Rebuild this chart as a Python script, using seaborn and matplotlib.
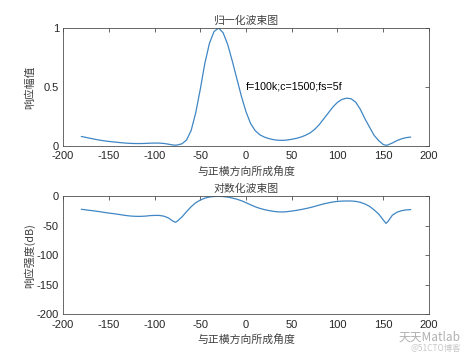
import numpy as np
import pandas as pd
import matplotlib
matplotlib.use("Agg")
import matplotlib.pyplot as plt
import matplotlib.ticker as mticker
import seaborn as sns

# 角度 (deg)
angles = [-180, -175, -170, -165, -160, -155, -150, -145, -140, -135, -130, -125,
          -120, -115, -110, -105, -100, -95, -90, -85, -80, -77, -75, -70, -65,
          -60, -55, -50, -45, -40, -35, -30, -25, -20, -15, -10, -5, 0, 5, 10,
          15, 20, 25, 30, 35, 40, 45, 50, 55, 60, 65, 70, 75, 80, 85, 90, 95,
          100, 105, 110, 115, 120, 125, 130, 135, 140, 145, 150, 153, 155, 160,
          165, 170, 175, 180]

# 归一化幅值
amp = [0.080, 0.072, 0.064, 0.056, 0.049, 0.043, 0.038, 0.034, 0.030, 0.026,
       0.023, 0.021, 0.020, 0.020, 0.021, 0.023, 0.024, 0.024, 0.021, 0.015,
       0.008, 0.006, 0.008, 0.018, 0.050, 0.13, 0.28, 0.48, 0.70, 0.87, 0.97,
       1.00, 0.96, 0.86, 0.72, 0.57, 0.42, 0.29, 0.19, 0.13, 0.095, 0.075,
       0.062, 0.053, 0.048, 0.047, 0.050, 0.056, 0.064, 0.075, 0.090, 0.11,
       0.14, 0.18, 0.23, 0.28, 0.33, 0.37, 0.395, 0.405, 0.40, 0.37, 0.31,
       0.23, 0.16, 0.09, 0.045, 0.012, 0.005, 0.008, 0.025, 0.045, 0.060,
       0.070, 0.075]

# 对数幅值 (dB)
db = [-22, -23, -24, -25, -26, -27.3, -28.4, -29.4, -30.5, -31.7, -32.8, -33.6,
      -34, -34, -33.6, -32.8, -32.4, -32.4, -33.6, -36.5, -42, -44, -42, -35,
      -26, -17.7, -11, -6.4, -3.1, -1.2, -0.3, 0, -0.4, -1.3, -2.9, -4.9, -7.5,
      -10.8, -14.4, -17.7, -20.4, -22.5, -24.2, -25.5, -26.4, -26.6, -26, -25,
      -23.9, -22.5, -20.9, -19.2, -17.1, -14.9, -12.8, -11.1, -9.6, -8.6, -8.1,
      -7.9, -8, -8.6, -10.2, -13, -17, -23, -30, -40, -46, -43, -32, -27, -24.4,
      -23.1, -22.5]

x_ticks = [-200, -150, -100, -50, 0, 50, 100, 150, 200]
y1_ticks = [0, 0.5, 1]
y2_ticks = [-200, -150, -100, -50, 0]

df = pd.DataFrame({"angle": angles, "amp": amp, "db": db})

sns.set_theme(style="white")
plt.rcParams['font.family'] = ['Liberation Sans', 'Noto Sans CJK SC', 'DejaVu Sans']
plt.rcParams['axes.unicode_minus'] = False
plt.rcParams['axes.edgecolor'] = '#505050'
plt.rcParams['axes.linewidth'] = 0.6
plt.rcParams['xtick.color'] = '#505050'
plt.rcParams['ytick.color'] = '#505050'

line_color = '#3f86c4'
text_color = '#262626'
label_color = '#404040'
cjk = ['Noto Sans CJK SC', 'DejaVu Sans']

fig = plt.figure(figsize=(4.74, 3.55), dpi=100)
ax1 = fig.add_axes([0.133, 0.589, 0.772, 0.332])
ax2 = fig.add_axes([0.133, 0.115, 0.772, 0.332])


def style_axis(ax, yticks, ylim):
    ax.set_xlim(-200, 200)
    ax.set_ylim(*ylim)
    ax.set_xticks(x_ticks)
    ax.set_yticks(yticks)
    ax.yaxis.set_major_formatter(mticker.FormatStrFormatter('%g'))
    ax.tick_params(direction='in', length=3, width=0.6, labelsize=8,
                   labelcolor=text_color, top=True, right=True)
    ax.tick_params(axis='x', pad=4)
    ax.tick_params(axis='y', pad=3)
    for s in ax.spines.values():
        s.set_visible(True)
    ax.grid(False)


# 归一化波束图
sns.lineplot(data=df, x="angle", y="amp", ax=ax1, color=line_color, linewidth=0.9)
style_axis(ax1, y1_ticks, (0, 1))
ax1.set_title('归一化波束图', family=cjk, fontsize=7.8, color=label_color, pad=3)
ax1.set_xlabel('与正横方向所成角度', family=cjk, fontsize=7.8, color=label_color, labelpad=3)
ax1.set_ylabel('响应幅值', family=cjk, fontsize=7.8, color=label_color, labelpad=6)
ax1.text(0, 0.5, 'f=100k;c=1500;fs=5f', fontsize=7.7, color='black',
         ha='left', va='center')

# 对数化波束图
sns.lineplot(data=df, x="angle", y="db", ax=ax2, color=line_color, linewidth=0.9)
style_axis(ax2, y2_ticks, (-200, 0))
ax2.set_title('对数化波束图', family=cjk, fontsize=7.8, color=label_color, pad=3)
ax2.set_xlabel('与正横方向所成角度', family=cjk, fontsize=7.8, color=label_color, labelpad=3)
ax2.set_ylabel('响应强度(dB)', family=cjk, fontsize=7.8, color=label_color, labelpad=1)

# 水印
fig.text(0.84, 0.049, '天天Matlab', family=cjk, fontsize=8.5, color='#b0b0b0', ha='left', va='center')
fig.text(0.865, 0.018, '@51CTO博客', family=cjk, fontsize=6, color='#c8c8c8', ha='left', va='center')

fig.savefig('out.png', dpi=100)
